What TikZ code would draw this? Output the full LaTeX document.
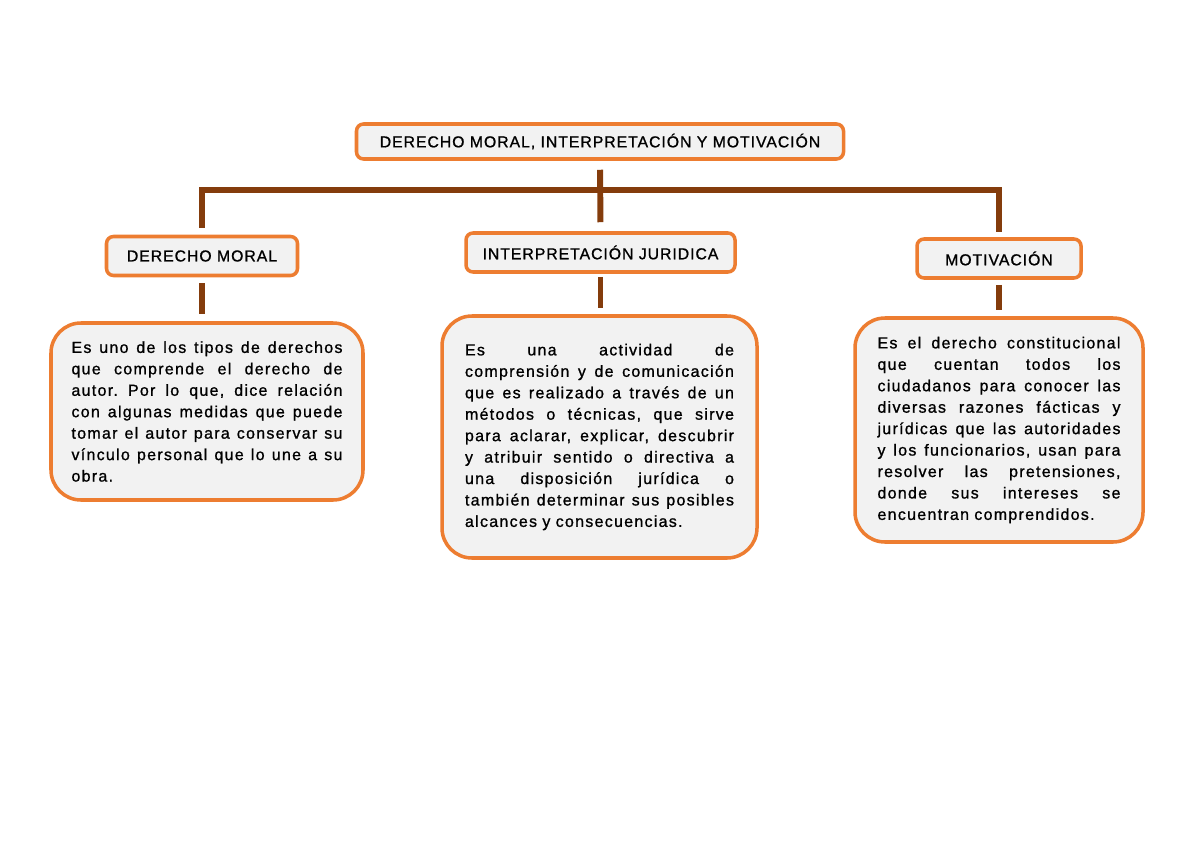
\documentclass[tikz,border=0pt]{standalone}
\usepackage{fontspec}
\setmainfont{Liberation Sans}
\newfontfamily\titfont[LetterSpace=6,FakeBold=1]{Liberation Sans}
\newfontfamily\txtfont[LetterSpace=8,FakeBold=1]{Liberation Sans}
\definecolor{naranja}{HTML}{ED7D31}
\definecolor{marron}{HTML}{843C0C}
\definecolor{fondo}{HTML}{F2F2F2}
\newcommand{\linea}[1]{{\spaceskip=\fontdimen2\font plus 1fil\makebox[\hsize][s]{#1}}\\}

\begin{document}
\begin{tikzpicture}[
    titulo/.style={rectangle, rounded corners=4pt, draw=naranja, fill=fondo, line width=2pt, inner sep=0pt, font=\titfont\fontsize{9}{10}\selectfont},
    texto/.style={rectangle, rounded corners=0.6cm, draw=naranja, fill=fondo, line width=2pt, inner sep=0pt, align=left, font=\txtfont\fontsize{9.1}{12.2}\selectfont\frenchspacing},
    rama/.style={marron, line width=3.4pt}
]
    \useasboundingbox (0,0) rectangle (24,-16.98);

    \node (top) at (12,-2.83) [titulo, minimum width=9.74cm, minimum height=0.7cm] {DERECHO MORAL, INTERPRETACIÓN Y MOTIVACIÓN};
    \node (dm) at (4.04,-5.12) [titulo, minimum width=3.82cm, minimum height=0.78cm] {DERECHO MORAL};
    \node (ij) at (12.01,-5.05) [titulo, minimum width=5.38cm, minimum height=0.78cm] {INTERPRETACIÓN JURIDICA};
    \node (mo) at (19.98,-5.17) [titulo, minimum width=3.28cm, minimum height=0.78cm] {MOTIVACIÓN};

    \node (tdm) at (4.14,-8.23) [texto, text width=5.42cm, minimum width=6.24cm, minimum height=3.54cm] {%
        \linea{Es uno de los tipos de derechos}
        \linea{que comprende el derecho de}
        \linea{autor. Por lo que, dice relación}
        \linea{con algunas medidas que puede}
        \linea{tomar el autor para conservar su}
        \linea{vínculo personal que lo une a su}
        obra.};
    \node (tij) at (11.99,-8.74) [texto, text width=5.38cm, minimum width=6.3cm, minimum height=4.84cm] {%
        \linea{Es una actividad de}
        \linea{comprensión y de comunicación}
        \linea{que es realizado a través de un}
        \linea{métodos o técnicas, que sirve}
        \linea{para aclarar, explicar, descubrir}
        \linea{y atribuir sentido o directiva a}
        \linea{una disposición jurídica o}
        \linea{también determinar sus posibles}
        alcances y consecuencias.};
    \node (tmo) at (19.98,-8.6) [texto, text width=4.86cm, minimum width=5.76cm, minimum height=4.48cm] {%
        \linea{Es el derecho constitucional}
        \linea{que cuentan todos los}
        \linea{ciudadanos para conocer las}
        \linea{diversas razones fácticas y}
        \linea{jurídicas que las autoridades}
        \linea{y los funcionarios, usan para}
        \linea{resolver las pretensiones,}
        \linea{donde sus intereses se}
        encuentran comprendidos.};

    % barra horizontal
    \coordinate (bl) at (dm.north |- 0,-3.8);
    \coordinate (br) at (mo.north |- 0,-3.8);
    \draw[rama, line cap=rect] (bl) -- (br);
    \draw[rama, shorten <=0.18cm, shorten >=0.18cm] (top) -- (ij);
    \draw[rama, shorten >=0.14cm] (bl) -- (dm);
    \draw[rama, shorten >=0.1cm] (br) -- (mo);

    % ramas hacia los textos
    \draw[rama, shorten <=0.12cm, shorten >=0.14cm] (dm.south) -- (dm.south |- tdm.north);
    \draw[rama, shorten <=0.06cm, shorten >=0.12cm] (ij.south) -- (ij.south |- tij.north);
    \draw[rama, shorten <=0.1cm, shorten >=0.12cm] (mo.south) -- (mo.south |- tmo.north);
\end{tikzpicture}
\end{document}
